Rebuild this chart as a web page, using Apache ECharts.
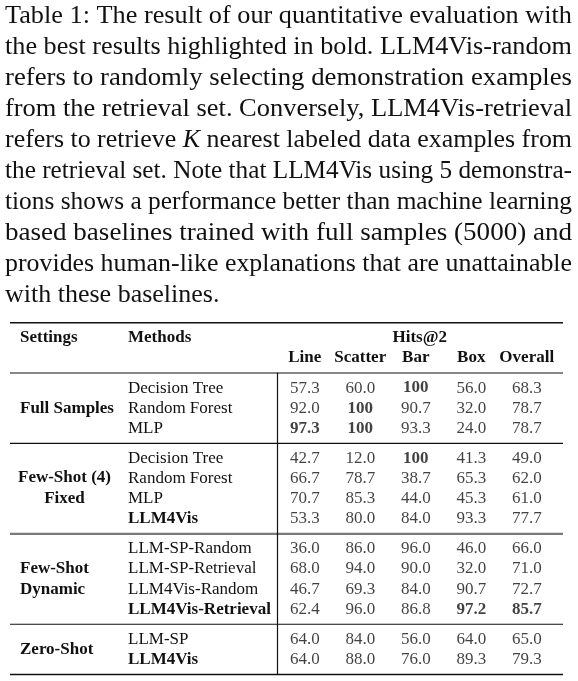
<!DOCTYPE html>
<html><head><meta charset="utf-8">
<script src="https://cdn.jsdelivr.net/npm/echarts@6/dist/echarts.min.js"></script>
<style>html,body{margin:0;padding:0;background:#fff}#c{width:578px;height:681px}</style>
</head><body><div id="c"></div>
<script>
// ---------- data ----------
const captionLines = [
  "Table 1: The result of our quantitative evaluation with",
  "the best results highlighted in bold. LLM4Vis-random",
  "refers to randomly selecting demonstration examples",
  "from the retrieval set. Conversely, LLM4Vis-retrieval",
  "refers to retrieve K nearest labeled data examples from",
  "the retrieval set. Note that LLM4Vis using 5 demonstra-",
  "tions shows a performance better than machine learning",
  "based baselines trained with full samples (5000) and",
  "provides human-like explanations that are unattainable",
  "with these baselines."
];
const italicWords = ["K"];
const headerSettings = "Settings";
const headerMethods = "Methods";
const headerMetric = "Hits@2";
const columns = ["Line", "Scatter", "Bar", "Box", "Overall"];
const groups = ["Full Samples", "Few-Shot (4)\nFixed", "Few-Shot\nDynamic", "Zero-Shot"];
const groupSizes = [3, 4, 4, 2];
const methods = ["Decision Tree", "Random Forest", "MLP",
  "Decision Tree", "Random Forest", "MLP", "LLM4Vis",
  "LLM-SP-Random", "LLM-SP-Retrieval", "LLM4Vis-Random", "LLM4Vis-Retrieval",
  "LLM-SP", "LLM4Vis"];
const boldMethods = ["LLM4Vis", "LLM4Vis-Retrieval"];
const lineVals    = [57.3, 92.0, 97.3, 42.7, 66.7, 70.7, 53.3, 36.0, 68.0, 46.7, 62.4, 64.0, 64.0];
const scatterVals = [60.0, 100, 100, 12.0, 78.7, 85.3, 80.0, 86.0, 94.0, 69.3, 96.0, 84.0, 88.0];
const barVals     = [100, 90.7, 93.3, 100, 38.7, 44.0, 84.0, 96.0, 90.0, 84.0, 86.8, 56.0, 76.0];
const boxVals     = [56.0, 32.0, 24.0, 41.3, 65.3, 45.3, 93.3, 46.0, 32.0, 90.7, 97.2, 64.0, 89.3];
const overallVals = [68.3, 78.7, 78.7, 49.0, 62.0, 61.0, 77.7, 66.0, 71.0, 72.7, 85.7, 65.0, 79.3];

// ---------- layout / style ----------
const FONT = '"Liberation Serif","Times New Roman",serif';
const INK = '#111';
const groupAlign = ['left', 'center', 'left', 'left'];

const valueCols = [lineVals, scatterVals, barVals, boxVals, overallVals];

// row positions: groups separated by half-row gap
const rowPos = [];
const groupFirst = [];
let p = 0;
groupSizes.forEach((n) => {
  groupFirst.push(p);
  for (let i = 0; i < n; i++) rowPos.push(p + i);
  p += n + 0.5;
});

const fmt = v => (v === 100 ? '100' : v.toFixed(1));

const series = columns.map((col, ci) => {
  const vals = valueCols[ci];
  const mx = Math.max.apply(null, vals);
  return {
    type: 'scatter',
    name: col,
    symbolSize: 1,
    itemStyle: { color: 'rgba(0,0,0,0)' },
    silent: true,
    data: vals.map((v, ri) => [col, rowPos[ri], v, v === mx ? 1 : 0]),
    label: {
      show: true,
      position: 'inside',
      formatter: prm => (prm.data[3] ? '{b|' + fmt(prm.data[2]) + '}' : '{n|' + fmt(prm.data[2]) + '}'),
      rich: {
        n: { fontFamily: FONT, fontSize: 17, color: INK },
        b: { fontFamily: FONT, fontSize: 17, color: INK, fontWeight: 'bold' }
      }
    }
  };
});

const chart = echarts.init(document.getElementById('c'), null, { renderer: 'canvas' });
chart.setOption({
  backgroundColor: '#fff',
  animation: false,
  grid: { left: 277, right: 23.5, top: 373, bottom: 6.5 },
  xAxis: {
    type: 'category', data: columns, position: 'top',
    axisLine: { show: false }, axisTick: { show: false }, splitLine: { show: false },
    axisLabel: { margin: 7, fontFamily: FONT, fontSize: 17, fontWeight: 'bold', color: INK, interval: 0 }
  },
  yAxis: {
    type: 'value', inverse: true, min: -0.75, max: p - 0.5 - 0.25,
    axisLine: { show: true, lineStyle: { color: INK, width: 1.2 } },
    axisTick: { show: false }, axisLabel: { show: false }, splitLine: { show: false }
  },
  series: series
});

// ---------- graphic text & rules from axis scale ----------
const yPix = v => chart.convertToPixel({ yAxisIndex: 0 }, v);
const xPix = c => {
  const r = chart.convertToPixel({ xAxisIndex: 0 }, c);
  return Array.isArray(r) ? r[0] : r;
};
const g = [];
const txt = (x, y, text, opt, extra) => g.push(Object.assign({
  type: 'text', x: x, y: y, silent: true,
  style: Object.assign({ text: text, fill: INK, font: '17px ' + FONT,
    align: 'left', verticalAlign: 'middle', textAlign: 'left', textVerticalAlign: 'middle' }, opt || {})
}, extra || {}));

// caption: each line set with normal word spaces, scaled horizontally to fill the measure
const cv = document.createElement('canvas').getContext('2d');
const capSize = 26, capLeft = 5, capRight = 572;
const capFont = capSize + 'px ' + FONT;
const capItalic = 'italic ' + capSize + 'px ' + FONT;
captionLines.forEach((line, li) => {
  const words = line.split(' ');
  let natural = 0;
  const parts = words.map((w) => {
    const it = italicWords.indexOf(w) >= 0;
    cv.font = it ? capItalic : capFont;
    natural += cv.measureText(w).width;
    return it ? '{i|' + w + '}' : w;
  });
  cv.font = capFont;
  natural += cv.measureText(' ').width * (words.length - 1);
  const last = li === captionLines.length - 1;
  const sx = last ? 1 : (capRight - capLeft) / natural;
  const y = 24 + 31 * li - 8;
  txt(capLeft, y, parts.join(' '), {
    font: capFont,
    rich: { i: { fontFamily: FONT, fontSize: capSize, fontStyle: 'italic', color: INK } }
  }, { scaleX: sx, originX: 0, originY: 0 });
});

// headers
const hdr1 = yPix(-2.5);
txt(20, hdr1, headerSettings, { font: 'bold 17px ' + FONT });
txt(128, hdr1, headerMethods, { font: 'bold 17px ' + FONT });
txt(xPix('Bar') + 4, hdr1, headerMetric, { font: 'bold 17px ' + FONT, align: 'center', textAlign: 'center' });

// methods
methods.forEach((m, i) => {
  txt(128, yPix(rowPos[i]), m, { font: (boldMethods.indexOf(m) >= 0 ? 'bold ' : '') + '17px ' + FONT });
});

// groups
groups.forEach((name, gi) => {
  const c = yPix(groupFirst[gi] + (groupSizes[gi] - 1) / 2);
  const al = groupAlign[gi];
  txt(al === 'center' ? 64.5 : 20, c, name, { font: 'bold 17px ' + FONT, lineHeight: 21, align: al, textAlign: al });
});

// rules
const ruleL = 10, ruleR = 563;
const rule = (y, color, w) => g.push({ type: 'line', silent: true,
  shape: { x1: ruleL, y1: y, x2: ruleR, y2: y }, style: { stroke: color, lineWidth: w } });
rule(yPix(-3.25), INK, 1.4);
rule(yPix(-0.75), INK, 1.2);
groupSizes.forEach((n, gi) => {
  const y = yPix(groupFirst[gi] + n - 1 + 0.75);
  if (gi === 1) rule(y, '#7a7a7a', 2.2);
  else rule(y, INK, gi === groupSizes.length - 1 ? 1.4 : 1.2);
});

chart.setOption({ graphic: { elements: g } });
</script></body></html>
